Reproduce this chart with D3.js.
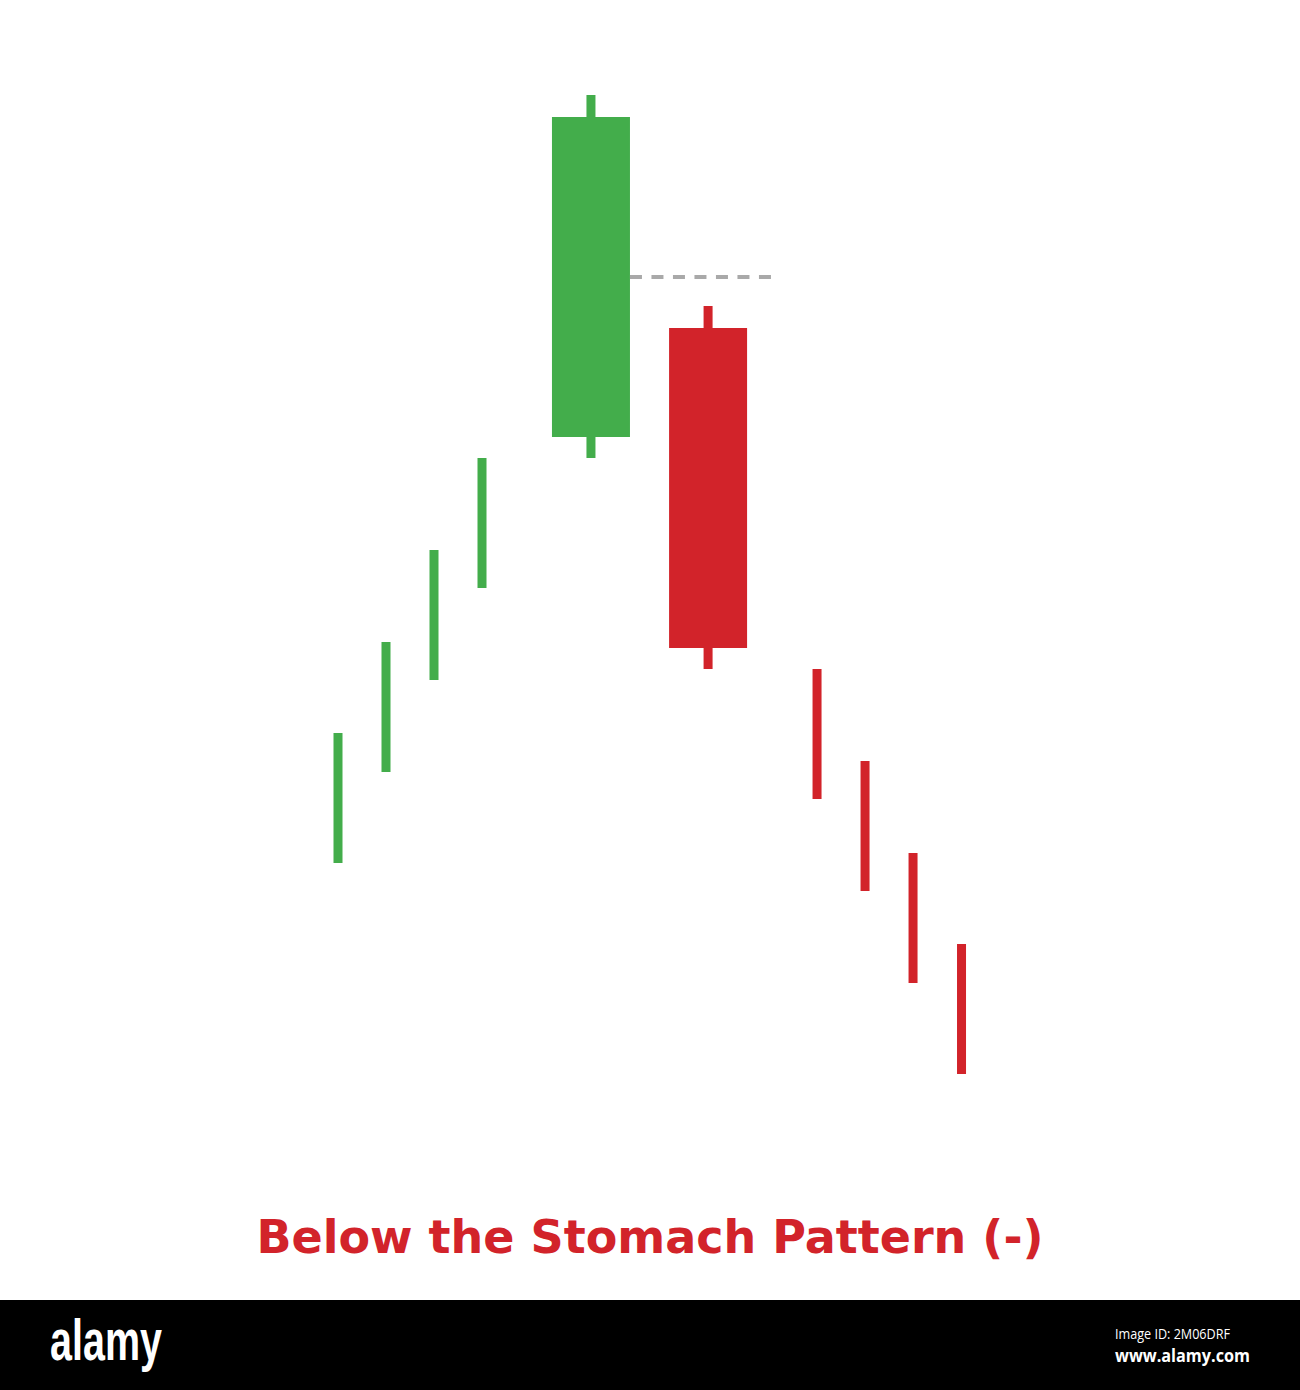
<!DOCTYPE html>
<head>
    <meta charset="utf-8">
    <script src="https://cdnjs.cloudflare.com/ajax/libs/d3/7.8.5/d3.min.js" charset="utf-8"></script>
    <style>
        html, body {
            margin: 0px;
            padding: 0px;
            background: #fff;
        }
        svg {
            display: block;
        }
    </style>
</head>

<body>

<div id="chart1"></div>

<script>
// candle data (price units are arbitrary)
var slots  = [0, 1, 2, 3, 5.27, 7.71, 9.98, 10.98, 11.98, 12.99];
var kinds  = ["thin", "thin", "thin", "thin", "full", "full", "thin", "thin", "thin", "thin"];
var opens  = [23.7, 32.8, 42.0, 51.2, 66.3, 77.2, 43.1, 33.9, 24.7, 15.6];
var closes = [36.7, 45.8, 55.0, 64.2, 98.3, 45.2, 30.1, 20.9, 11.7,  2.6];
var highs  = [36.7, 45.8, 55.0, 64.2, 100.5, 79.4, 43.1, 33.9, 24.7, 15.6];
var lows   = [23.7, 32.8, 42.0, 51.2, 64.2, 43.1, 30.1, 20.9, 11.7,  2.6];

var title = "Below the Stomach Pattern (-)";

var width = 1300,
    height = 1390;

var green = "#43ad4b",
    red = "#d2232a";

var candles = slots.map(function(s, i) {
    return {slot: s, kind: kinds[i], open: opens[i], close: closes[i], high: highs[i], low: lows[i]};
});

var x = d3.scaleLinear().domain([0, 13]).range([338, 962]);
var y = d3.scaleLinear().domain([0, 110]).range([1100, 0]);

var svg = d3.select("#chart1").append("svg")
    .attr("width", width)
    .attr("height", height);

svg.append("rect")
    .attr("width", width)
    .attr("height", height)
    .attr("fill", "#fff");

function colour(d) { return d.close >= d.open ? green : red; }

var g = svg.append("g").attr("class", "candles");

// wicks
g.selectAll("rect.wick")
    .data(candles.filter(function(d) { return d.kind == "full"; }))
    .enter().append("rect")
    .attr("class", "wick")
    .attr("x", function(d) { return x(d.slot) - 4.5; })
    .attr("width", 9)
    .attr("y", function(d) { return y(d.high); })
    .attr("height", function(d) { return y(d.low) - y(d.high); })
    .attr("fill", colour);

// bodies
g.selectAll("rect.body")
    .data(candles)
    .enter().append("rect")
    .attr("class", "body")
    .attr("x", function(d) { return x(d.slot) - (d.kind == "full" ? 39 : 4.5); })
    .attr("width", function(d) { return d.kind == "full" ? 78 : 9; })
    .attr("y", function(d) { return y(Math.max(d.open, d.close)); })
    .attr("height", function(d) { return Math.abs(y(d.open) - y(d.close)); })
    .attr("fill", colour);

// dashed line at the midpoint of the big green body
var big = candles[4], next = candles[5];
var mid = (big.open + big.close) / 2;
svg.append("line")
    .attr("x1", x(big.slot) + 39)
    .attr("x2", x(next.slot) + 65)
    .attr("y1", y(mid))
    .attr("y2", y(mid))
    .attr("stroke", "#a9a9a9")
    .attr("stroke-width", 4)
    .style("stroke-dasharray", "12,9.5");

svg.append("text")
    .attr("x", width / 2)
    .attr("y", 1253)
    .attr("text-anchor", "middle")
    .attr("textLength", 787)
    .attr("lengthAdjust", "spacingAndGlyphs")
    .style("font", "bold 46px 'DejaVu Sans', Verdana, sans-serif")
    .attr("fill", red)
    .text(title);

// footer strip
svg.append("rect")
    .attr("y", 1300)
    .attr("width", width)
    .attr("height", 90)
    .attr("fill", "#000");

svg.append("text")
    .attr("x", 50)
    .attr("y", 1360)
    .attr("textLength", 112)
    .attr("lengthAdjust", "spacingAndGlyphs")
    .style("font", "bold 58px 'Liberation Sans Narrow', 'Liberation Sans', sans-serif")
    .attr("fill", "#fff")
    .text("alamy");

svg.append("text")
    .attr("x", 1115)
    .attr("y", 1339)
    .attr("textLength", 115)
    .attr("lengthAdjust", "spacingAndGlyphs")
    .style("font", "14px 'Open Sans', sans-serif")
    .attr("fill", "#fff")
    .text("Image ID: 2M06DRF");

svg.append("text")
    .attr("x", 1115)
    .attr("y", 1362)
    .attr("textLength", 135)
    .attr("lengthAdjust", "spacingAndGlyphs")
    .style("font", "bold 17px 'Open Sans', sans-serif")
    .attr("fill", "#fff")
    .text("www.alamy.com");
</script>

</body>
</html>
